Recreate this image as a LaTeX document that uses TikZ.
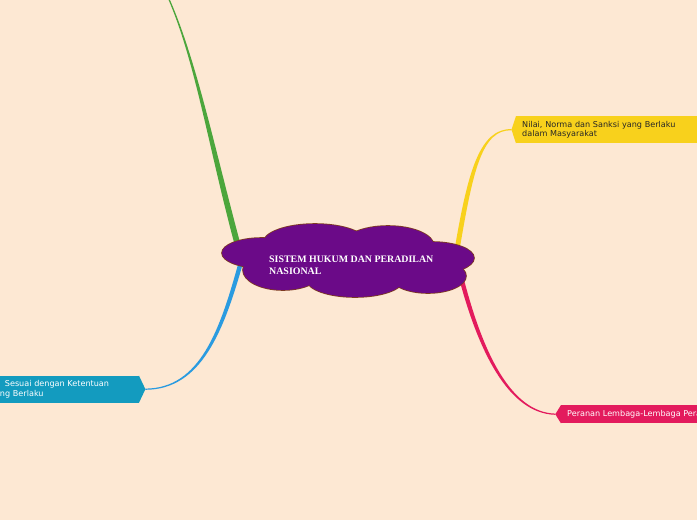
\documentclass[tikz,border=0pt]{standalone}
\usepackage{fontspec}
\setmainfont{Liberation Serif}
\newfontfamily\leaffont{DejaVu Sans}
\usetikzlibrary{calc}
\definecolor{bgpeach}{HTML}{FDE8D3}
\definecolor{cloudfill}{HTML}{6B0A88}
\definecolor{cloudline}{HTML}{7E3A22}
\definecolor{grn}{HTML}{4CA63C}
\definecolor{ylw}{HTML}{F8D11C}
\definecolor{blu}{HTML}{2A9BE0}
\definecolor{blufill}{HTML}{139BBF}
\definecolor{pnk}{HTML}{E31B5D}

\begin{document}
\begin{tikzpicture}[x=1pt,y=-1pt,
  leaf/.style={rectangle,inner xsep=6pt,inner ysep=0pt,align=left,
    font=\leaffont\fontsize{8.1}{9.5}\selectfont}]

\fill[bgpeach] (0,0) rectangle (697,520);
\clip (0,0) rectangle (697,520);

% topics
\node[leaf,fill=ylw,text=black!85,anchor=north west,minimum height=27pt,text width=200pt]
  (norma) at (516,116) {Nilai, Norma dan Sanksi yang Berlaku\\dalam Masyarakat};
\node[leaf,fill=blufill,text=white,anchor=north west,minimum height=27pt,text width=142.5pt]
  (sikap) at (-16,375.5) {\hspace*{14.7pt}Sesuai dengan Ketentuan\\yang Berlaku};
\node[leaf,fill=pnk,text=white,anchor=north west,minimum height=18pt]
  (lembaga) at (561,405) {Peranan Lembaga-Lembaga Peradilan};

\coordinate (ytip) at ($(norma.west)+(-4.5,0)$);
\coordinate (btip) at ($(sikap.east)+(6.5,0)$);
\coordinate (ptip) at ($(lembaga.west)+(-5.7,0)$);
\fill[ylw] (norma.north west) -- (ytip) -- (norma.south west) -- cycle;
\fill[blufill] (sikap.north east) -- (btip) -- (sikap.south east) -- cycle;
\fill[pnk] (lembaga.north west) -- (ptip) -- (lembaga.south west) -- cycle;

% branches
\coordinate (gtop) at (168,-3);
\coordinate (cg) at (238,246);
\coordinate (cy) at (457,250);
\coordinate (cb) at (241,262);
\coordinate (cp) at (461,277);

\fill[grn] ($(cg)+(-3,0)$) .. controls (209,150) and (195.3,60) .. ($(gtop)+(-0.7,0)$)
  -- ($(gtop)+(0.7,0)$) .. controls (196.7,60) and (215,150) .. ($(cg)+(3,0)$) -- cycle;
\fill[ylw] ($(cy)+(-2.5,0)$) .. controls (468,170) and (480,128.6) .. ($(ytip)+(0,-0.6)$)
  -- ($(ytip)+(0,0.6)$) .. controls (482,129.4) and (473,170) .. ($(cy)+(2.5,0)$) -- cycle;
\fill[blu] ($(cb)+(-2.3,0)$) .. controls (220,330) and (200,388.4) .. ($(btip)+(0,-0.6)$)
  -- ($(btip)+(0,0.6)$) .. controls (202,389.6) and (224,330) .. ($(cb)+(2.3,0)$) -- cycle;
\fill[pnk] ($(cp)+(2.3,0)$) .. controls (482,350) and (510,412.4) .. ($(ptip)+(0,-0.6)$)
  -- ($(ptip)+(0,0.6)$) .. controls (508,413.6) and (478,350) .. ($(cp)+(-2.3,0)$) -- cycle;

% central cloud
\foreach \x/\y/\a/\b in {262/253/40/15,315/243/52/19,388/246/46/20,432/258/42/16,
  428/276/38/17,355/280/48/17,283/270/40/20,350/262/90/22}
  \draw[cloudline,line width=1.6pt] (\x,\y) ellipse [x radius=\a,y radius=\b];
\foreach \x/\y/\a/\b in {262/253/40/15,315/243/52/19,388/246/46/20,432/258/42/16,
  428/276/38/17,355/280/48/17,283/270/40/20,350/262/90/22}
  \fill[cloudfill] (\x,\y) ellipse [x radius=\a,y radius=\b];

\node[anchor=west,inner sep=0pt,align=left,text=white,font=\bfseries\fontsize{9.9}{12.4}\selectfont]
  (title) at (269,265.5) {SISTEM HUKUM DAN PERADILAN\\NASIONAL};

\end{tikzpicture}
\end{document}
